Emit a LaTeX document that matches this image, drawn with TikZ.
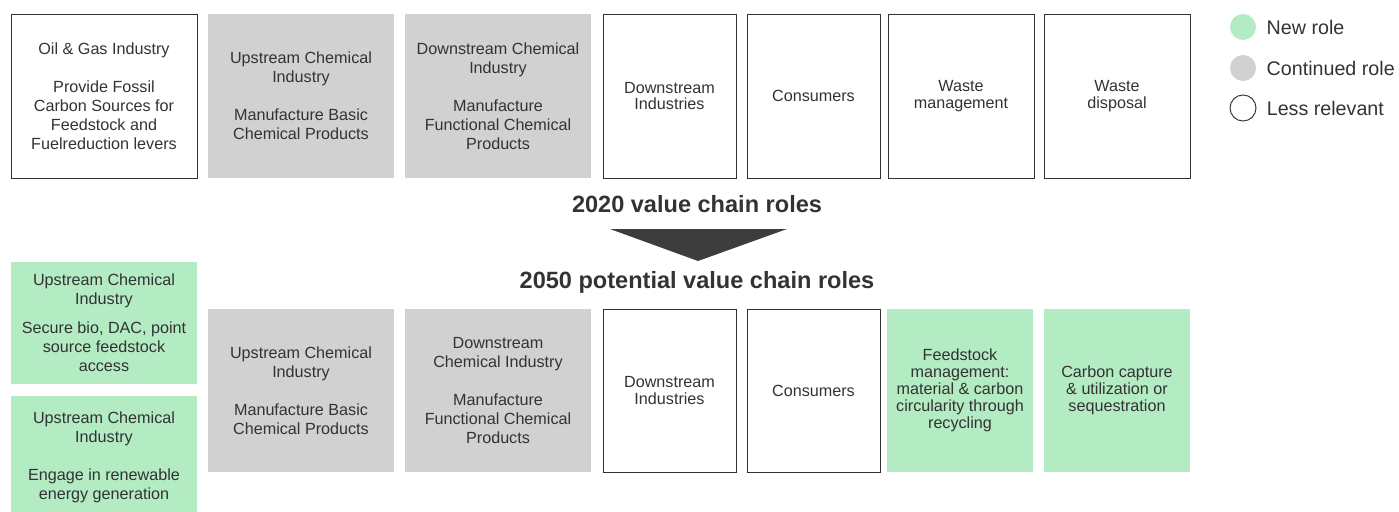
\documentclass[tikz,border=0pt]{standalone}
\usepackage{fontspec}
\setmainfont{Liberation Sans}
\usepackage{tikz}
\usetikzlibrary{positioning}
\definecolor{ink}{HTML}{333333}
\definecolor{contgray}{HTML}{D1D1D1}
\definecolor{newgreen}{HTML}{B3EBC2}
\newcommand{\rolefont}{\fontsize{9.2}{10.8}\selectfont}
\newcommand{\tightfont}{\fontsize{9.2}{9.65}\selectfont}

\begin{document}
\begin{tikzpicture}[
      node distance=0.22cm,
      box/.style={align=center, inner sep=2pt, outer sep=0pt, minimum height=3.28cm,
                  font=\rolefont, text=ink, anchor=north west},
      less/.style={box, draw=ink, line width=0.55pt, fill=white},
      cont/.style={box, fill=contgray},
      newr/.style={box, fill=newgreen},
      tight/.style={font=\tightfont},
      wide/.style={minimum width=3.72cm},
      narrow/.style={minimum width=2.66cm},
      mid/.style={minimum width=2.92cm},
      title/.style={font=\fontsize{13.4}{15}\selectfont\bfseries, text=ink},
      dot/.style={circle, minimum size=0.52cm, inner sep=0pt},
      legend/.style={right=0.2cm of #1, font=\fontsize{11.2}{12}\selectfont, text=ink, inner sep=0pt}
    ]
    \useasboundingbox (0,0) rectangle (27.98,-10.22);

    % 2020 row
    \node[less, wide] (oil) at (0.22,-0.28)
      {Oil \& Gas Industry\\[0.38cm]Provide Fossil\\Carbon Sources for\\Feedstock and\\Fuelreduction levers};
    \node[cont, wide, right=of oil] (upa)
      {Upstream Chemical\\Industry\\[0.38cm]Manufacture Basic\\Chemical Products};
    \node[cont, wide, right=of upa] (dna)
      {Downstream Chemical\\Industry\\[0.38cm]Manufacture\\Functional Chemical\\Products};
    \node[less, narrow, tight, right=0.24cm of dna] (dia) {Downstream\\Industries};
    \node[less, narrow, right=of dia] (cona) {Consumers};
    \node[less, mid, tight, right=0.16cm of cona] (wman) {Waste\\management};
    \node[less, mid, tight, right=0.2cm of wman] (wdis) {Waste\\disposal};

    % transition
    \node[title] (t2020) at (13.94,-4.08) {2020 value chain roles};
    \fill[ink!95] (12.2,-4.58) -- (15.74,-4.58) -- (13.96,-5.22) -- cycle;
    \node[title] (t2050) at (13.94,-5.64) {2050 potential value chain roles};

    % 2050 row
    \node[newr, wide, minimum height=2.44cm] (sec) at (0.22,-5.24)
      {Upstream Chemical\\Industry\\[0.2cm]Secure bio, DAC, point\\source feedstock\\access};
    \node[newr, wide, minimum height=2.44cm, below=0.24cm of sec] (ren)
      {Upstream Chemical\\Industry\\[0.38cm]Engage in renewable\\energy generation};
    \node[cont, wide, minimum height=3.26cm, below=2.62cm of upa] (upb)
      {Upstream Chemical\\Industry\\[0.38cm]Manufacture Basic\\Chemical Products};
    \node[cont, wide, minimum height=3.26cm, right=of upb] (dnb)
      {Downstream\\Chemical Industry\\[0.38cm]Manufacture\\Functional Chemical\\Products};
    \node[less, narrow, minimum height=3.26cm, tight, right=0.24cm of dnb] (dib) {Downstream\\Industries};
    \node[less, narrow, minimum height=3.26cm, right=of dib] (conb) {Consumers};
    \node[newr, mid, minimum height=3.26cm, tight, right=0.14cm of conb] (feed)
      {Feedstock\\management:\\material \& carbon\\circularity through\\recycling};
    \node[newr, mid, minimum height=3.26cm, tight, right=of feed] (ccus)
      {Carbon capture\\\& utilization or\\sequestration};

    % legend
    \node[dot, fill=newgreen] (lnew) at (24.86,-0.54) {};
    \node[dot, fill=contgray] (lcont) at (24.86,-1.36) {};
    \node[dot, draw=ink, line width=0.55pt] (lless) at (24.86,-2.16) {};
    \node[legend=lnew] {New role};
    \node[legend=lcont] {Continued role};
    \node[legend=lless] {Less relevant};
  \end{tikzpicture}
\end{document}
